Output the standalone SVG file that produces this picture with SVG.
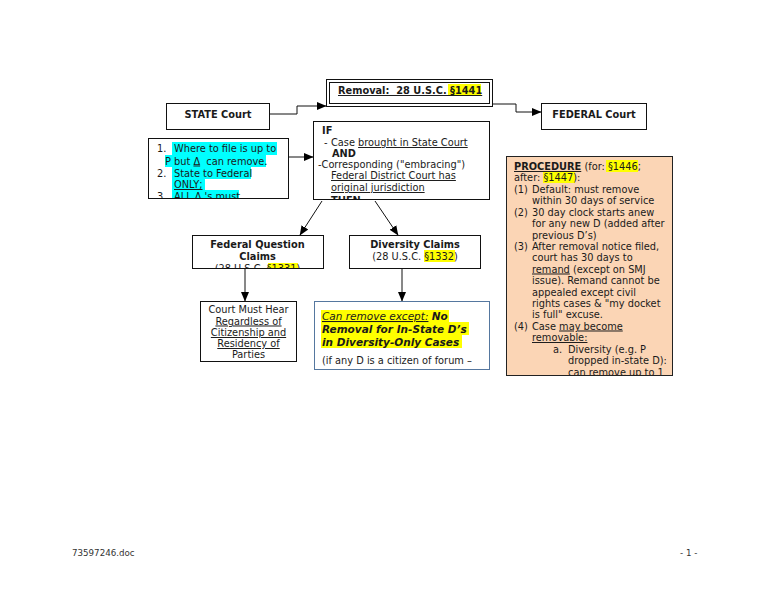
<svg xmlns="http://www.w3.org/2000/svg" width="768" height="594" viewBox="0 0 768 594">
<style>
text{font-family:"DejaVu Sans","Liberation Sans",sans-serif;font-size:9.8px;fill:#1a1a1a}
.b{font-weight:bold}
.i{font-style:italic}
.u{text-decoration:underline}
.m{text-anchor:middle}
.box{fill:#fff;stroke:#111;stroke-width:1}
.c{stroke:#111;stroke-width:1;fill:none}
.hy{fill:#ffff00}
.hc{fill:#00ffff}
.big{font-size:10.5px}
.foot{font-size:8.7px;fill:#333}
</style>
<defs>
<marker id="ah" markerWidth="10" markerHeight="10" refX="9" refY="5" orient="auto" markerUnits="userSpaceOnUse"><path d="M0,1 L9.5,5 L0,9 z" fill="#000"/></marker>
<clipPath id="cl1"><rect x="149" y="139" width="139" height="59"/></clipPath>
<clipPath id="cl2"><rect x="314" y="122" width="175" height="77"/></clipPath>
<clipPath id="cl3"><rect x="193" y="236" width="130" height="32"/></clipPath>
<clipPath id="cl4"><rect x="315" y="302" width="174" height="67"/></clipPath>
<clipPath id="cl5"><rect x="507" y="157" width="165" height="218"/></clipPath>
</defs>
<rect width="768" height="594" fill="#fff"/>

<g id="connectors">
<path class="c" d="M270,114 H297 V106 H326" marker-end="url(#ah)"/>
<path class="c" d="M493,104 H516 V112 H541" marker-end="url(#ah)"/>
<path class="c" d="M289,157 H313" marker-end="url(#ah)"/>
<path class="c" d="M322,201 L300,235" marker-end="url(#ah)"/>
<path class="c" d="M375,201 L398,235" marker-end="url(#ah)"/>
<path class="c" d="M245,269 V301" marker-end="url(#ah)"/>
<path class="c" d="M402,269 V301" marker-end="url(#ah)"/>
</g>

<g id="state-court">
<rect class="box" x="166.5" y="103.5" width="103" height="26"/>
<text class="b m" x="218" y="118">STATE Court</text>
</g>

<g id="removal">
<rect class="box" x="326.5" y="79.5" width="166" height="27"/>
<rect class="box" x="329.5" y="82.5" width="160" height="21"/>
<rect class="hy" x="448" y="84" width="33" height="12"/>
<text class="b u" x="338" y="94" xml:space="preserve">Removal:  28 U.S.C. §1441</text>
</g>

<g id="federal-court">
<rect class="box" x="541.5" y="103.5" width="105" height="26"/>
<text class="b m" x="594" y="118">FEDERAL Court</text>
</g>

<g id="rules-list">
<rect class="box" x="148.5" y="138.5" width="140" height="60"/>
<g clip-path="url(#cl1)">
<rect class="hc" x="172" y="142" width="105" height="13"/>
<rect class="hc" x="165" y="155" width="101" height="12"/>
<rect class="hc" x="172" y="167" width="79" height="12"/>
<rect class="hc" x="172" y="179" width="33" height="11"/>
<rect class="hc" x="172" y="190" width="67" height="10"/>
<text x="157" y="152">1.</text>
<text x="174" y="152">Where to file is up to</text>
<text x="165" y="164.5" xml:space="preserve">P but <tspan class="u">Δ</tspan>  can remove.</text>
<text x="157" y="176.5">2.</text>
<text x="174" y="176.5">State to Federal</text>
<text class="u" x="174" y="188">ONLY;</text>
<text x="157" y="200">3.</text>
<text x="174" y="200">ALL Δ 's must</text>
</g>
</g>

<g id="if-conditions">
<rect class="box" x="313.5" y="121.5" width="176" height="78"/>
<g clip-path="url(#cl2)">
<text class="b" x="322" y="134">IF</text>
<text x="324" y="146">-</text>
<text x="331" y="146">Case <tspan class="u">brought in State Court </tspan></text>
<text class="b" x="332" y="157">AND</text>
<text x="318" y="168">-Corresponding ("embracing")</text>
<text class="u" x="331" y="179">Federal District Court has</text>
<text class="u" x="331" y="191">original jurisdiction</text>
<text class="b" x="331" y="203.5">THEN</text>
</g>
</g>

<g id="federal-question">
<rect class="box" x="192.5" y="235.5" width="131" height="33"/>
<g clip-path="url(#cl3)">
<rect class="hy" x="268" y="263" width="30" height="6"/>
<text class="b m" x="257.5" y="248">Federal Question</text>
<text class="b m" x="257.5" y="260">Claims</text>
<text class="m" x="257.5" y="272">(28 U.S.C. §1331)</text>
</g>
</g>

<g id="diversity">
<rect class="box" x="349.5" y="235.5" width="131" height="33"/>
<rect class="hy" x="424" y="250" width="31" height="12"/>
<text class="b m" x="415" y="248">Diversity Claims</text>
<text class="m" x="415" y="260">(28 U.S.C. §1332)</text>
</g>

<g id="court-must-hear">
<rect class="box" x="200.5" y="301.5" width="96" height="60"/>
<text class="m" x="248.5" y="313">Court Must Hear</text>
<text class="m u" x="248.5" y="324.5">Regardless of</text>
<text class="m u" x="248.5" y="336">Citizenship and</text>
<text class="m u" x="248.5" y="347">Residency of</text>
<text class="m" x="248.5" y="358">Parties</text>
</g>

<g id="can-remove">
<rect x="314.5" y="301.5" width="175" height="68" fill="#fff" stroke="#55779f" stroke-width="1"/>
<g clip-path="url(#cl4)">
<rect class="hy" x="321" y="310" width="128" height="12"/>
<rect class="hy" x="321" y="322" width="148" height="13"/>
<rect class="hy" x="321" y="335" width="141" height="13"/>
<text class="big" x="322" y="320" xml:space="preserve"><tspan class="i u">Can remove except:</tspan> <tspan class="b i">No</tspan></text>
<text class="big b i" x="322" y="333">Removal for In-State D’s</text>
<text class="big b i" x="322" y="345.5">in Diversity-Only Cases</text>
<text x="322" y="364">(if any D is a citizen of forum –</text>
</g>
</g>

<g id="procedure">
<rect x="506.5" y="156.5" width="166" height="219" fill="#fbd5b5" stroke="#222" stroke-width="1"/>
<g clip-path="url(#cl5)">
<rect class="hy" x="606" y="160" width="32" height="12"/>
<rect class="hy" x="543" y="172" width="32" height="11"/>
<text x="514" y="170"><tspan class="b u">PROCEDURE</tspan> (for: §1446;</text>
<text x="514" y="181">after: §1447):</text>
<text x="514" y="193">(1)</text><text x="532" y="193">Default: must remove</text>
<text x="532" y="204">within 30 days of service</text>
<text x="514" y="215.5">(2)</text><text x="532" y="215.5">30 day clock starts anew</text>
<text x="532" y="227">for any new D (added after</text>
<text x="532" y="238.5">previous D’s)</text>
<text x="514" y="250">(3)</text><text x="532" y="250">After removal notice filed,</text>
<text x="532" y="261">court has 30 days to</text>
<text x="532" y="272.5"><tspan class="u">remand</tspan> (except on SMJ</text>
<text x="532" y="284">issue). Remand cannot be</text>
<text x="532" y="295.5">appealed except civil</text>
<text x="532" y="307">rights cases &amp; "my docket</text>
<text x="532" y="318">is full" excuse.</text>
<text x="514" y="329.5">(4)</text><text x="532" y="329.5">Case <tspan class="u">may become </tspan></text>
<text class="u" x="532" y="341">removable:</text>
<text x="553" y="352.5">a.</text><text x="568" y="352.5">Diversity (e.g. P</text>
<text x="568" y="364">dropped in-state D):</text>
<text x="568" y="375.5">can remove up to 1</text>
</g>
</g>

<g id="footer">
<text class="foot" x="72" y="555.5">73597246.doc</text>
<text class="foot" x="680" y="555.5">- 1 -</text>
</g>
</svg>
